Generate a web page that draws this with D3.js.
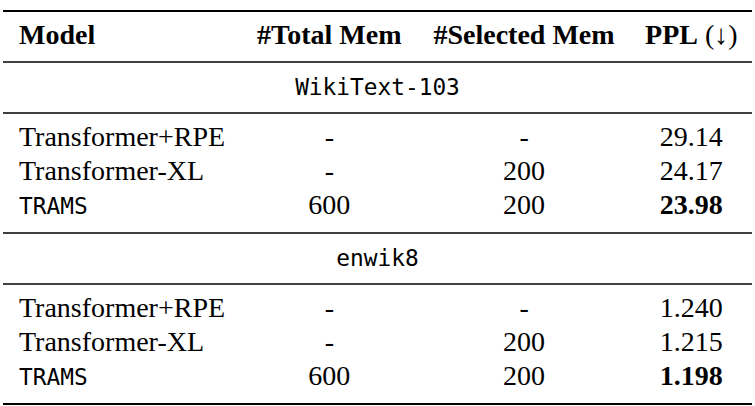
<!DOCTYPE html>
<html>
<head>
<meta charset="utf-8">
<script src="https://cdn.jsdelivr.net/npm/d3@7"></script>
<style>
  body { margin: 0; background: #fff; }
  svg text { fill: #000; }
  .serif { font-family: "Liberation Serif", "Times New Roman", serif; font-size: 28px; }
  .mono { font-family: "DejaVu Sans Mono", monospace; font-size: 22.8px; }
</style>
</head>
<body>
<svg id="plot" width="755" height="406"></svg>
<script>
// table values
const columns = ['Model', '#Total Mem', '#Selected Mem', 'PPL']
const datasets = ['WikiText-103', 'enwik8']
const models = ['Transformer+RPE', 'Transformer-XL', 'TRAMS']
const totalMem = ['-', '-', '600']
const selectedMem = ['-', '200', '200']
const pplWiki = [29.14, 24.17, 23.98]
const pplEnwik = [1.240, 1.215, 1.198]
const pplDigits = [2, 3]

let plot = d3.select('#plot')
const W = 755
const left = 3, right = 752
const colSep = 16   // like \tabcolsep
const rulePad = 33, ruleAfter = 18, rowStep = 34

// measure text widths so the columns come out like a latex tabular
const measure = (txt, cls, weight) => {
    let t = plot.append('text').attr('class', cls).attr('font-weight', weight || 'normal').text(txt)
    let w = t.node().getComputedTextLength()
    t.remove()
    return w
}
const headerW = columns.map(c => measure(c, 'serif', 'bold'))
headerW[3] += measure(' (\u2193)', 'serif')
const colW = [
    d3.max(models.map(m => m === 'TRAMS' ? measure(m, 'mono') : measure(m, 'serif')).concat([headerW[0]])),
    headerW[1], headerW[2], headerW[3]
].map(w => w + 2 * colSep)
// stretch to full rule width
const extra = (right - left) - d3.sum(colW)
colW[3] += extra
const colStart = colW.map((w, i) => left + d3.sum(colW.slice(0, i)))
const x = d3.scaleOrdinal().domain(columns).range(colStart.map((s, i) => i === 0 ? s + colSep : s + colW[i] / 2))

// vertical layout: rules and baselines
let rules = []
let y = 11
rules.push({y: y, w: 2.2})
let headerY = y + rulePad
y = headerY + ruleAfter
rules.push({y: y, w: 1.6})
let groups = datasets.map((ds, g) => {
    let dsY = y + rulePad
    y = dsY + ruleAfter
    rules.push({y: y, w: 1.6})
    let rowsY = models.map((m, i) => y + rulePad + i * rowStep)
    y = rowsY[rowsY.length - 1] + ruleAfter + 1
    rules.push({y: y, w: g === datasets.length - 1 ? 2.2 : 1.6})
    return {name: ds, y: dsY, rows: rowsY, ppl: g === 0 ? pplWiki : pplEnwik, digits: pplDigits[g]}
})

plot.selectAll('line.rule').data(rules).enter().append('line').attr('class', 'rule')
    .attr('x1', left).attr('x2', right)
    .attr('y1', d => d.y).attr('y2', d => d.y)
    .attr('stroke', '#000').attr('stroke-width', d => d.w)

// header
plot.selectAll('text.head').data(columns).enter().append('text').attr('class', 'serif head')
    .attr('font-weight', 'bold')
    .attr('x', d => x(d)).attr('y', headerY)
    .attr('text-anchor', (d, i) => i === 0 ? 'start' : 'middle')
    .each(function (d) {
        let t = d3.select(this)
        t.append('tspan').text(d)
        if (d === 'PPL') t.append('tspan').attr('font-weight', 'normal').text(' (\u2193)')
    })

groups.forEach(g => {
    plot.append('text').attr('class', 'mono').attr('x', W / 2).attr('y', g.y)
        .attr('text-anchor', 'middle').text(g.name)
    let best = d3.min(g.ppl)
    models.forEach((m, i) => {
        let ry = g.rows[i]
        plot.append('text').attr('class', m === 'TRAMS' ? 'mono' : 'serif')
            .attr('x', x('Model')).attr('y', ry).text(m)
        plot.append('text').attr('class', 'serif').attr('text-anchor', 'middle')
            .attr('x', x('#Total Mem')).attr('y', ry).text(totalMem[i])
        plot.append('text').attr('class', 'serif').attr('text-anchor', 'middle')
            .attr('x', x('#Selected Mem')).attr('y', ry).text(selectedMem[i])
        plot.append('text').attr('class', 'serif').attr('text-anchor', 'middle')
            .attr('font-weight', g.ppl[i] === best ? 'bold' : 'normal')
            .attr('x', x('PPL')).attr('y', ry).text(g.ppl[i].toFixed(g.digits))
    })
})
</script>
</body>
</html>
